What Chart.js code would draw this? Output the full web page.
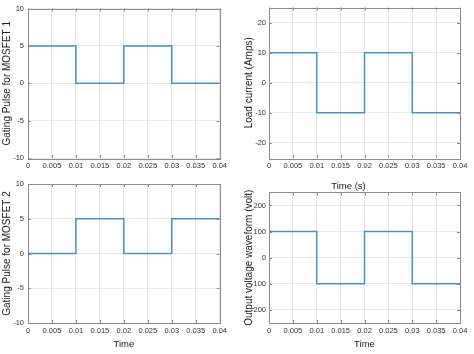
<!DOCTYPE html>
<html>
<head>
<meta charset="utf-8">
<script src="https://cdn.jsdelivr.net/npm/chart.js@4.4.0/dist/chart.umd.min.js"></script>
<style>
  html, body { margin: 0; background: #fff; }
  .panel { position: absolute; }
</style>
</head>
<body>
<div class="panel" style="left:0;top:0;width:230px;height:172px"><canvas id="gate1"></canvas></div>
<div class="panel" style="left:237px;top:0;width:237px;height:172px"><canvas id="loadI"></canvas></div>
<div class="panel" style="left:0;top:172px;width:230px;height:182px"><canvas id="gate2"></canvas></div>
<div class="panel" style="left:237px;top:172px;width:237px;height:182px"><canvas id="vOut"></canvas></div>
<script>
'use strict';

// --- data ---
const TIME    = [0, 0.01, 0.02, 0.03, 0.04];
const GATE1   = [5, 0, 5, 0, 0];
const GATE2   = [0, 5, 0, 5, 5];
const LOAD_I  = [10, -10, 10, -10, -10];
const V_OUT   = [100, -100, 100, -100, -100];

const X_TICKS    = [0, 0.005, 0.01, 0.015, 0.02, 0.025, 0.03, 0.035, 0.04];
const GATE_TICKS = [-10, -5, 0, 5, 10];
const I_TICKS    = [-20, -10, 0, 10, 20];
const V_TICKS    = [-200, -100, 0, 100, 200];

const LINE = '#3f93cf';
const AXIS = '#8c8c8c';
const GRID = '#e8e8e8';
const TEXT = '#333';
const FONT = '"Liberation Sans", Arial, sans-serif';

Chart.defaults.font.family = FONT;
Chart.defaults.color = TEXT;

// box round the plot area, with matlab style inward ticks
const boxPlugin = {
  id: 'box',
  afterDraw(chart) {
    const { ctx, chartArea: a, scales } = chart;
    ctx.save();
    ctx.strokeStyle = AXIS;
    ctx.lineWidth = 1;
    ctx.beginPath();
    scales.x.ticks.forEach(t => {
      const px = Math.round(scales.x.getPixelForValue(t.value)) + 0.5;
      ctx.moveTo(px, a.bottom); ctx.lineTo(px, a.bottom - 3);
      ctx.moveTo(px, a.top); ctx.lineTo(px, a.top + 3);
    });
    scales.y.ticks.forEach(t => {
      const py = Math.round(scales.y.getPixelForValue(t.value)) + 0.5;
      ctx.moveTo(a.left, py); ctx.lineTo(a.left + 3, py);
      ctx.moveTo(a.right, py); ctx.lineTo(a.right - 3, py);
    });
    ctx.stroke();
    ctx.strokeRect(Math.round(a.left) + 0.5, Math.round(a.top) + 0.5,
      Math.round(a.right - a.left), Math.round(a.bottom - a.top));
    ctx.restore();
  },
};

function panel(id, values, yMin, yMax, yTicks, yTitle, cfg) {
  new Chart(document.getElementById(id), {
    type: 'line',
    data: {
      datasets: [{
        data: TIME.map((t, i) => ({ x: t, y: values[i] })),
        borderColor: LINE,
        borderWidth: 1.5,
        stepped: 'before',
        pointRadius: 0,
        fill: false,
      }],
    },
    options: {
      responsive: true,
      maintainAspectRatio: false,
      animation: false,
      layout: { padding: { top: cfg.top, right: cfg.right, left: 0, bottom: 0 } },
      plugins: {
        legend: { display: false },
        tooltip: { enabled: false },
        title: cfg.title
          ? { display: true, text: cfg.title, color: '#222', font: { size: 9.5, weight: 'normal' }, padding: { top: 0, bottom: 0 } }
          : { display: false },
      },
      scales: {
        x: {
          type: 'linear',
          min: 0,
          max: 0.04,
          afterBuildTicks: s => { s.ticks = X_TICKS.map(v => ({ value: v })); },
          afterFit: s => { s.height = cfg.xH; },
          ticks: { font: { size: 7.5 }, padding: 3, maxRotation: 0, autoSkip: false, color: '#333',
            callback: v => String(+v.toFixed(3)) },
          grid: { color: GRID, drawTicks: false },
          border: { display: false },
          title: cfg.xTitle
            ? { display: true, text: cfg.xTitle, color: '#222', font: { size: 9.5 }, padding: { top: 2, bottom: 4 } }
            : { display: false },
        },
        y: {
          min: yMin,
          max: yMax,
          afterBuildTicks: s => { s.ticks = yTicks.map(v => ({ value: v })); },
          afterFit: s => { s.width = cfg.yW; },
          ticks: { font: { size: 7.5 }, padding: cfg.tickPad, color: '#333' },
          grid: { color: GRID, drawTicks: false },
          border: { display: false },
          title: { display: true, text: yTitle, color: '#222', font: { size: 10 }, padding: { top: cfg.titlePad, bottom: 0 } },
        },
      },
    },
    plugins: [boxPlugin],
  });
}

panel('gate1', GATE1, -10, 10, GATE_TICKS, 'Gating Pulse for MOSFET 1',
  { top: 6, right: 6, yW: 28, xH: 14, tickPad: 4, titlePad: 1 });
panel('loadI', LOAD_I, -25, 25, I_TICKS, 'Load current (Amps)',
  { top: 7, right: 14, yW: 32, xH: 14, tickPad: 3, titlePad: 6 });
panel('gate2', GATE2, -10, 10, GATE_TICKS, 'Gating Pulse for MOSFET 2',
  { top: 12, right: 6, yW: 28, xH: 31, tickPad: 4, titlePad: 1, xTitle: 'Time' });
panel('vOut', V_OUT, -250, 250, V_TICKS, 'Output voltage waveform (volt)',
  { top: 9, right: 14, yW: 32, xH: 31, tickPad: 3, titlePad: 6, xTitle: 'Time', title: 'Time (s)' });
</script>
</body>
</html>
